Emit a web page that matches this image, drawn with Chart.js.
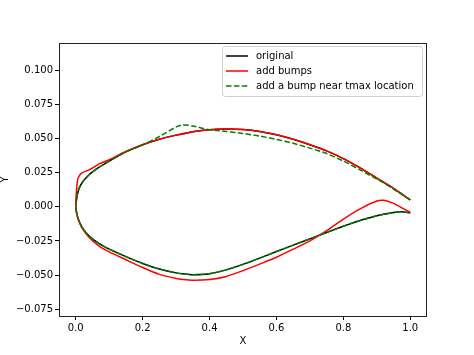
<!DOCTYPE html>
<html>
<head>
<meta charset="utf-8">
<script src="https://cdn.jsdelivr.net/npm/chart.js@4.4.1/dist/chart.umd.min.js"></script>
<style>
html,body{margin:0;padding:0;background:#fff;}
#wrap{width:474px;height:355px;position:relative;}
</style>
</head>
<body>
<div id="wrap"><canvas id="c" width="474" height="355"></canvas></div>
<script>
// chord stations (x/c)
const stations = [0, 0.005, 0.01, 0.02, 0.04, 0.07, 0.1, 0.15, 0.2, 0.25, 0.3, 0.32, 0.35, 0.4, 0.45, 0.5, 0.55, 0.6, 0.65, 0.7, 0.75, 0.8, 0.85, 0.9, 0.92, 0.95, 0.975, 1.0];

// upper surfaces
const originalUpper = [0, 0.009, 0.0135, 0.018, 0.0235, 0.029, 0.0335, 0.0403, 0.0455, 0.0495, 0.0525, 0.0535, 0.055, 0.0565, 0.057, 0.0566, 0.0552, 0.0528, 0.0495, 0.0455, 0.041, 0.0353, 0.0285, 0.021, 0.018, 0.0135, 0.0093, 0.005];
const bumpsUpper    = [0, 0.019, 0.0225, 0.025, 0.027, 0.0315, 0.0345, 0.0405, 0.0455, 0.0495, 0.0525, 0.0535, 0.055, 0.0565, 0.057, 0.0566, 0.0552, 0.0528, 0.0495, 0.0455, 0.041, 0.0353, 0.0285, 0.021, 0.018, 0.0135, 0.0093, 0.005];
const tmaxUpper     = [0, 0.009, 0.0135, 0.018, 0.0235, 0.029, 0.0335, 0.0403, 0.0452, 0.0515, 0.0585, 0.06, 0.0592, 0.0564, 0.0552, 0.0537, 0.0518, 0.0494, 0.0465, 0.043, 0.039, 0.0335, 0.027, 0.0203, 0.0175, 0.013, 0.009, 0.005];

// lower surfaces
const originalLower = [0, -0.007, -0.0105, -0.0155, -0.0215, -0.027, -0.031, -0.0365, -0.0415, -0.0456, -0.0484, -0.0491, -0.0497, -0.049, -0.0462, -0.0422, -0.0376, -0.0328, -0.0281, -0.0235, -0.0188, -0.0142, -0.01, -0.0066, -0.0055, -0.0042, -0.0037, -0.0045];
const bumpsLower    = [0, -0.007, -0.011, -0.016, -0.0225, -0.0288, -0.033, -0.0388, -0.0445, -0.0495, -0.0525, -0.0532, -0.0538, -0.0533, -0.051, -0.0468, -0.042, -0.037, -0.031, -0.025, -0.0175, -0.009, -0.0015, 0.0042, 0.0048, 0.0025, -0.0008, -0.004];
const tmaxLower     = [0, -0.007, -0.0105, -0.0155, -0.0215, -0.027, -0.031, -0.0365, -0.0415, -0.0456, -0.0484, -0.0491, -0.0497, -0.049, -0.0462, -0.0422, -0.0376, -0.0328, -0.0281, -0.0235, -0.0188, -0.0142, -0.01, -0.0066, -0.0055, -0.0042, -0.0037, -0.0045];

const seriesLabels = ['original', 'add bumps', 'add a bump near tmax location'];
const xTicks = [0.0, 0.2, 0.4, 0.6, 0.8, 1.0];
const yTicks = [-0.075, -0.05, -0.025, 0.0, 0.025, 0.05, 0.075, 0.1];

function contour(upper, lower) {
  const pts = [];
  for (let i = stations.length - 1; i >= 0; i--) pts.push({x: stations[i], y: upper[i]});
  for (let i = 1; i < stations.length; i++) pts.push({x: stations[i], y: lower[i]});
  return pts;
}
function fmtNum(v, d) {
  const s = Math.abs(v).toFixed(d);
  return (v < 0 && parseFloat(s) !== 0 ? '\u2212' : '') + s;
}

const FONT = 'DejaVu Sans';

const legendPlugin = {
  id: 'mplLegend',
  afterDatasetsDraw(chart) {
    const ctx = chart.ctx;
    const ca = chart.chartArea;
    // frame
    ctx.save();
    ctx.strokeStyle = '#222';
    ctx.lineWidth = 1;
    ctx.strokeRect(Math.round(ca.left) + 0.5, Math.round(ca.top) + 0.5, Math.round(ca.right - ca.left) - 1, Math.round(ca.bottom - ca.top));
    // legend box
    const bx = 222.5, by = 46.5, bw = 200, bh = 50, r = 3;
    ctx.beginPath();
    ctx.moveTo(bx + r, by);
    ctx.lineTo(bx + bw - r, by); ctx.arcTo(bx + bw, by, bx + bw, by + r, r);
    ctx.lineTo(bx + bw, by + bh - r); ctx.arcTo(bx + bw, by + bh, bx + bw - r, by + bh, r);
    ctx.lineTo(bx + r, by + bh); ctx.arcTo(bx, by + bh, bx, by + bh - r, r);
    ctx.lineTo(bx, by + r); ctx.arcTo(bx, by, bx + r, by, r);
    ctx.closePath();
    ctx.fillStyle = 'rgba(255,255,255,0.8)';
    ctx.fill();
    ctx.strokeStyle = '#d0d0d0';
    ctx.stroke();
    const rows = [56, 71, 86];
    chart.data.datasets.forEach((ds, i) => {
      const y = rows[i];
      ctx.beginPath();
      ctx.strokeStyle = ds.borderColor;
      ctx.lineWidth = 1.5;
      ctx.setLineDash(ds.borderDash || []);
      ctx.moveTo(226, y); ctx.lineTo(248, y);
      ctx.stroke();
      ctx.setLineDash([]);
      ctx.fillStyle = '#000';
      ctx.font = '10px "' + FONT + '"';
      ctx.textBaseline = 'middle';
      ctx.textAlign = 'left';
      ctx.fillText(ds.label, 256, y);
    });
    ctx.restore();
  }
};

new Chart(document.getElementById('c'), {
  type: 'scatter',
  data: {
    datasets: [
      {label: seriesLabels[0], data: contour(originalUpper, originalLower), borderColor: '#000000', order: 2},
      {label: seriesLabels[1], data: contour(bumpsUpper, bumpsLower), borderColor: '#ff0000', order: 1},
      {label: seriesLabels[2], data: contour(tmaxUpper, tmaxLower), borderColor: '#008000', borderDash: [5.5, 2.4], order: 0}
    ].map(d => Object.assign({showLine: true, pointRadius: 0, pointHoverRadius: 0, borderWidth: 1.5, tension: 0.25, fill: false, backgroundColor: d.borderColor}, d))
  },
  options: {
    responsive: false,
    animation: false,
    events: [],
    layout: {padding: {left: 0, top: 43, right: 47, bottom: 0}},
    plugins: {legend: {display: false}, tooltip: {enabled: false}},
    scales: {
      x: {
        type: 'linear', min: -0.05, max: 1.05,
        afterBuildTicks: s => { s.ticks = xTicks.map(v => ({value: v})); },
        afterFit: s => { s.height = 39; },
        grid: {display: true, drawOnChartArea: false, drawTicks: true, tickLength: 4, tickColor: '#000', tickWidth: 1},
        border: {display: false},
        ticks: {color: '#000', font: {family: FONT, size: 10}, padding: 2, maxRotation: 0, autoSkip: false, callback: v => fmtNum(v, 1)},
        title: {display: true, text: 'X', color: '#000', font: {family: FONT, size: 10, lineHeight: 1.2}, padding: {top: 0, bottom: 8}}
      },
      y: {
        type: 'linear', min: -0.08, max: 0.12,
        afterBuildTicks: s => { s.ticks = yTicks.map(v => ({value: v})); },
        afterFit: s => { s.width = 59; },
        grid: {display: true, drawOnChartArea: false, drawTicks: true, tickLength: 4, tickColor: '#000', tickWidth: 1},
        border: {display: false},
        ticks: {color: '#000', font: {family: FONT, size: 10}, padding: 2, autoSkip: false, callback: v => fmtNum(v, 3)},
        title: {display: true, text: 'Y', color: '#000', font: {family: FONT, size: 10, lineHeight: 1.0}, padding: {top: 0, bottom: 0}}
      }
    }
  },
  plugins: [legendPlugin]
});
</script>
</body>
</html>
